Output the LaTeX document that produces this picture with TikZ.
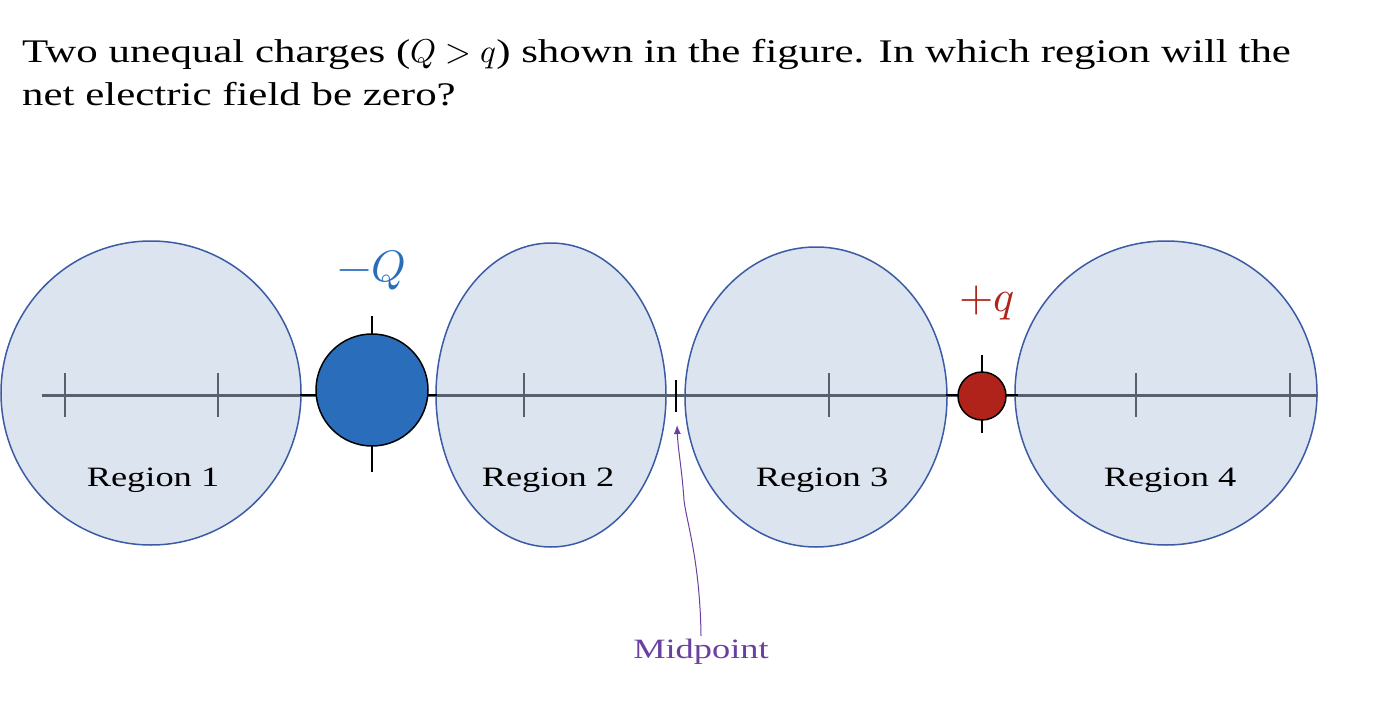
\documentclass[tikz,border=0pt]{standalone}
\usepackage{fontspec}
\usepackage{unicode-math}
\setmainfont[FakeStretch=1.3]{Liberation Serif}
\setmathfont{Latin Modern Math}
\usetikzlibrary{arrows.meta}
\definecolor{regfill}{HTML}{DCE4F0}
\definecolor{regdraw}{HTML}{3B5BA5}
\definecolor{axisc}{HTML}{56606E}
\definecolor{bluec}{HTML}{2A6EBB}
\definecolor{redc}{HTML}{B0231A}
\definecolor{purp}{HTML}{6A3FA0}
\begin{document}
\begin{tikzpicture}[x=1pt,y=-1pt,
 region/.style={draw=regdraw,fill=regfill,line width=1.5pt},
 tk/.style={axisc,line width=1.5pt},
 lbl/.style={font=\fontsize{28}{32}\selectfont},
 title/.style={anchor=base west,font=\fontsize{33}{40}\selectfont,inner sep=0}]
\useasboundingbox (0,0) rectangle (1378,706);
\node[title] (t1) at (22,63) {Two unequal charges ($Q>q$) shown in the figure. In which region will the};
\node[title] (t2) at (22,106) {net electric field be zero?};
\draw[region] (151,393) ellipse[x radius=150,y radius=152];
\draw[region] (551,395) ellipse[x radius=115,y radius=152];
\draw[region] (816,397) ellipse[x radius=131,y radius=150];
\draw[region] (1166,393) ellipse[x radius=151,y radius=152];
\draw[axisc,line width=3pt] (42,395) -- (1318,395);
\draw[black,line width=2pt] (300,395) -- (437,395) (946,395) -- (1018,395);
\foreach \x in {65,218,524,829,1136,1290} \draw[tk] (\x,373) -- (\x,417);
\coordinate (mid) at (676,395);
\draw[black,line width=1.5pt] (676,380) -- (676,412);
\draw[black,line width=1.5pt] (372,316) -- (372,472);
\node[circle,draw=black,line width=1.5pt,fill=bluec,minimum size=112,inner sep=0] (Qc) at (372,390) {};
\draw[black,line width=1.5pt] (982,355) -- (982,433);
\node[circle,draw=black,line width=1.5pt,fill=redc,minimum size=48,inner sep=0] (qc) at (982,396) {};
\node[text=bluec,font=\fontsize{44}{48}\selectfont] (QL) at (372,270) {$-Q$};
\node[text=redc,font=\fontsize{44}{48}\selectfont] (qL) at (987,303) {$+q$};
\node[lbl] (r1) at (153,480) {Region 1};
\node[lbl] (r2) at (548,480) {Region 2};
\node[lbl] (r3) at (822,480) {Region 3};
\node[lbl] (r4) at (1170,480) {Region 4};
\node[lbl,text=purp] (mp) at (701,652) {Midpoint};
\draw[purp,line width=1pt,-{Latex[length=9pt,width=7pt]}] (mp.north) .. controls (700,560) and (686,520) .. (684,500) .. controls (682,470) and (678,450) .. (677,425);
\end{tikzpicture}
\end{document}
